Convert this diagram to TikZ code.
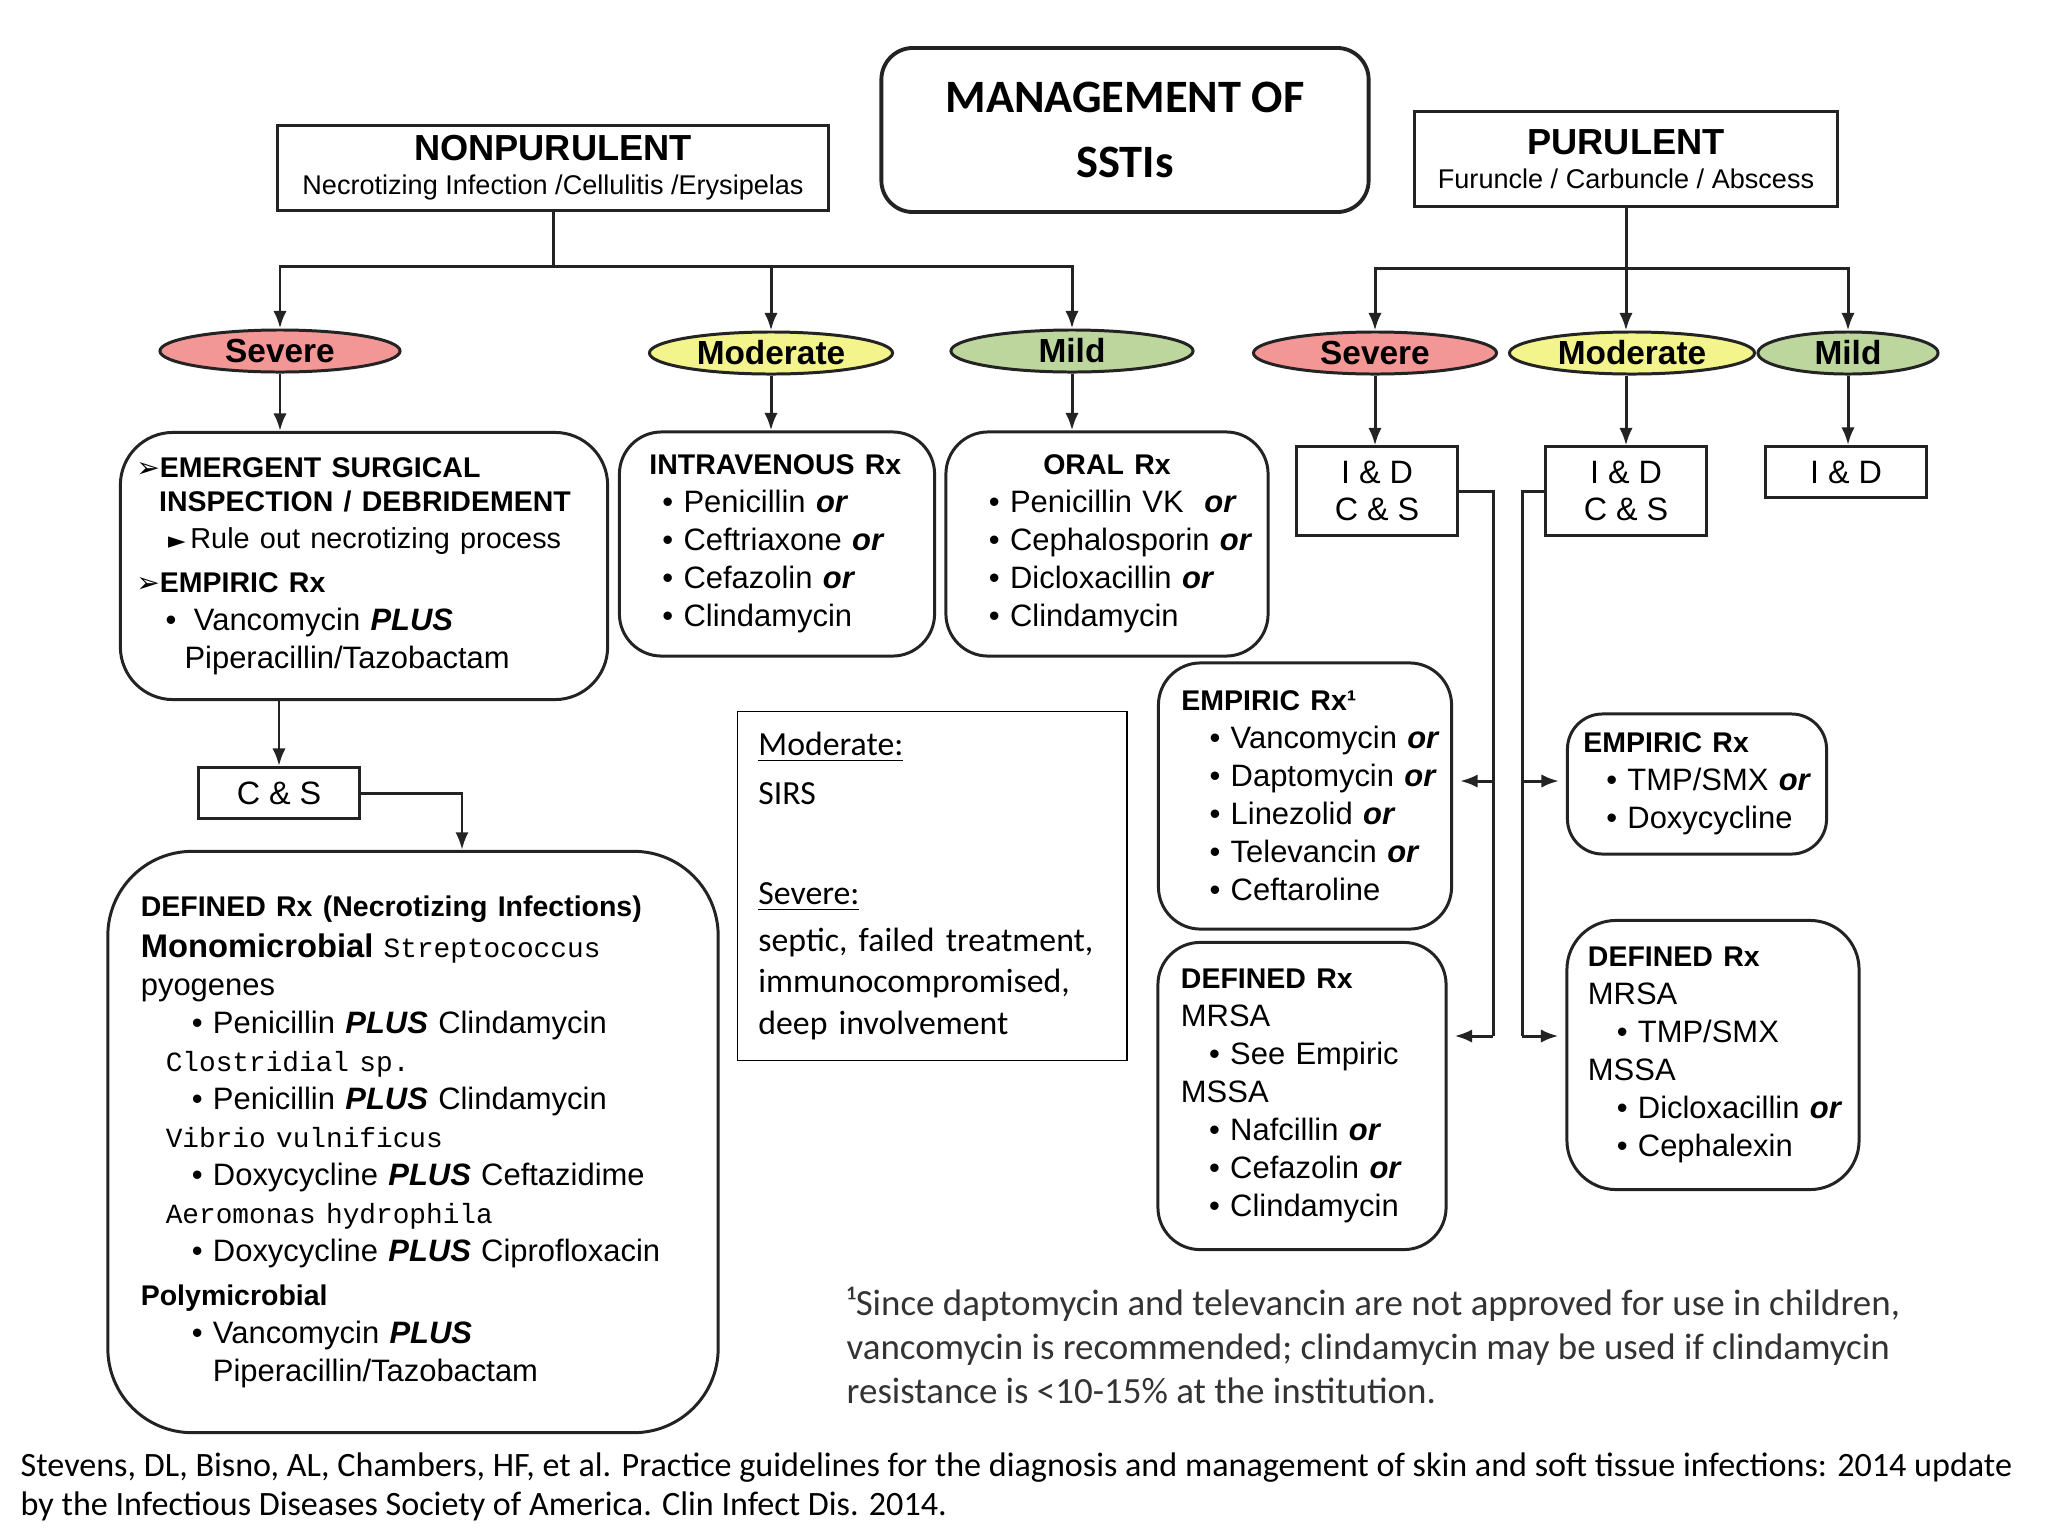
\documentclass[tikz,border=0pt]{standalone}
\usepackage{fontspec}
\setmainfont{Liberation Sans}
\newfontfamily\slidefont{Carlito}
\newfontfamily\dingfont{DejaVu Sans}
\newfontfamily\speciesfont{Liberation Mono}
\usetikzlibrary{positioning, arrows.meta, shapes.geometric}

\definecolor{LineColor}{RGB}{35,35,35}
\definecolor{SevereColor}{RGB}{242,150,150}
\definecolor{ModerateColor}{RGB}{244,244,140}
\definecolor{MildColor}{RGB}{188,214,158}

\newcommand{\hdr}[1]{{\fontsize{8.1}{10.8}\selectfont\bfseries #1}}
\newcommand{\grouptitle}[1]{{\fontsize{10.3}{11}\selectfont\bfseries #1}}
\newcommand{\bor}{\textbf{\textit{or}}}
\newcommand{\plus}{\textbf{\textit{PLUS}}}
\newcommand{\pointer}{{\dingfont\fontsize{8}{10.8}\selectfont ➢}}
\newcommand{\species}[1]{{\speciesfont\fontsize{7.9}{10.8}\selectfont #1}}
\newcommand{\rxitem}[2][8pt]{\hspace*{#1}\mbox{\textbullet\ #2}}

\tikzstyle{link} = [line width=0.85pt, LineColor]
\tikzstyle{arrow} = [line width=0.85pt, LineColor, -{Latex[length=5pt,width=3.8pt]}]
\tikzstyle{titlebox} = [draw=LineColor, line width=1.1pt, rounded corners=9pt, align=center, minimum width=4.87cm, minimum height=1.64cm, font=\slidefont\fontsize{13.2}{18.5}\selectfont\bfseries]
\tikzstyle{groupbox} = [draw=LineColor, line width=0.85pt, fill=white, align=center, inner sep=0pt, font=\fontsize{7.7}{9.7}\selectfont]
\tikzstyle{plainbox} = [draw=LineColor, line width=0.85pt, fill=white, align=center, inner sep=0pt, font=\fontsize{9.2}{10.4}\selectfont]
\tikzstyle{severity} = [ellipse, draw=LineColor, line width=0.85pt, inner sep=0pt, minimum height=0.42cm, font=\fontsize{9.5}{11}\selectfont\bfseries]
\tikzstyle{rxbox} = [draw=LineColor, line width=0.85pt, rounded corners=12pt, align=left, inner ysep=0pt, font=\fontsize{8.8}{10.8}\selectfont]
\tikzstyle{legendbox} = [draw=black, line width=0.5pt, align=left, inner ysep=0pt, text width=3.47cm, inner xsep=0.21cm, minimum height=3.49cm, font=\slidefont\fontsize{9.6}{11.8}\selectfont]

\begin{document}
\begin{tikzpicture}[x=0.01cm, y=-0.01cm]
\useasboundingbox (0,0) rectangle (2048,1536);

% headings
\node[titlebox] (title) at (1125,130) {MANAGEMENT OF\\SSTIs};
\node[groupbox, minimum width=5.50cm, minimum height=0.85cm] (npBox) at (553,168) {\grouptitle{NONPURULENT}\\Necrotizing Infection /Cellulitis /Erysipelas};
\node[groupbox, minimum width=4.23cm, minimum height=0.94cm] (pBox) at (1626,159) {\grouptitle{PURULENT}\\Furuncle / Carbuncle / Abscess};

% severity levels
\node[severity, fill=SevereColor, minimum width=2.40cm] (npSev) at (280,351) {Severe};
\node[severity, fill=ModerateColor, minimum width=2.43cm] (npMod) at (771,353) {Moderate};
\node[severity, fill=MildColor, minimum width=2.42cm] (npMild) at (1072,351) {Mild};
\node[severity, fill=SevereColor, minimum width=2.43cm] (pSev) at (1375,353) {Severe};
\node[severity, fill=ModerateColor, minimum width=2.45cm] (pMod) at (1632,353) {Moderate};
\node[severity, fill=MildColor, minimum width=1.80cm] (pMild) at (1848,353) {Mild};

\coordinate (npJoin) at (553,266);
\coordinate (pJoin) at (1626,268);
\draw[link] (npBox) -- (npJoin);
\draw[arrow] (npJoin) -| (npSev);
\draw[arrow] (npJoin) -| (npMild);
\draw[arrow] (npMod |- npJoin) -- (npMod);
\draw[link] (pBox) -- (pJoin);
\draw[arrow] (pJoin) -| (pSev);
\draw[arrow] (pJoin) -| (pMild);
\draw[arrow] (pJoin) -- (pJoin |- pMod.north);

% nonpurulent treatment
\node[rxbox, text width=4.55cm, inner xsep=0.16cm, minimum height=2.67cm, rounded corners=15pt] (npSevBox) at (364,566) {%
\pointer\hdr{EMERGENT SURGICAL}\\[-1pt]
\hspace*{6.5pt}\hdr{INSPECTION / DEBRIDEMENT}\\[-0.5pt]
\hspace*{9pt}{\dingfont\fontsize{6.5}{10.8}\selectfont ►}{\fontsize{8.2}{10.8}\selectfont\,Rule out necrotizing process}\\[1.7pt]
\pointer\hdr{EMPIRIC Rx}\\
\hspace*{8.3pt}\textbullet\hspace{5pt}Vancomycin \plus\\
\hspace*{13.7pt}Piperacillin/Tazobactam};
\node[rxbox, text width=2.55cm, inner xsep=0.30cm, minimum height=2.24cm] (npModBox) at (777,544) {%
\hdr{INTRAVENOUS Rx}\\
\rxitem[3.7pt]{Penicillin \bor}\\
\rxitem[3.7pt]{Ceftriaxone \bor}\\
\rxitem[3.7pt]{Cefazolin \bor}\\
\rxitem[3.7pt]{Clindamycin}};
\node[rxbox, text width=2.36cm, inner xsep=0.43cm, minimum height=2.24cm] (npMildBox) at (1107,544) {%
\makebox[\hsize]{\hdr{ORAL Rx}}\\
\rxitem[0pt]{Penicillin VK\ \ \bor}\\
\rxitem[0pt]{Cephalosporin \bor}\\
\rxitem[0pt]{Dicloxacillin \bor}\\
\rxitem[0pt]{Clindamycin}};
\draw[arrow] (npSev) -- (npSev |- npSevBox.north);
\draw[arrow] (npMod) -- (npMod |- npModBox.north);
\draw[arrow] (npMild) -- (npMild |- npMildBox.north);

\node[plainbox, minimum width=1.60cm, minimum height=0.51cm] (npCS) at (279,793) {C \& S};
\node[rxbox, text width=5.44cm, inner xsep=0.33cm, minimum height=5.81cm, rounded corners=24pt] (npDefBox) at (413,1142) {%
\hdr{DEFINED Rx (Necrotizing Infections)}\\[0.8pt]
{\fontsize{9.3}{10.8}\selectfont\bfseries Monomicrobial} \species{Streptococcus}\\
pyogenes\\
\rxitem[14.5pt]{Penicillin \plus\ Clindamycin}\\
\hspace*{7.1pt}\species{Clostridial sp.}\\
\rxitem[14.5pt]{Penicillin \plus\ Clindamycin}\\
\hspace*{7.1pt}\species{Vibrio vulnificus}\\
\rxitem[14.5pt]{Doxycycline \plus\ Ceftazidime}\\
\hspace*{7.1pt}\species{Aeromonas hydrophila}\\
\rxitem[14.5pt]{Doxycycline \plus\ Ciprofloxacin}\\[1.7pt]
\hdr{Polymicrobial}\\
\rxitem[14.5pt]{Vancomycin \plus}\\
\hspace*{20.5pt}Piperacillin/Tazobactam};
\coordinate (csTurn) at (462,793);
\draw[arrow] (npCS |- npSevBox.south) -- (npCS);
\draw[arrow] (npCS) -- (csTurn) -- (csTurn |- npDefBox.north);

\node[legendbox] (legend) at (932,886) {\underline{Moderate:}\\[2.1pt]
SIRS\\[16.6pt]
\underline{Severe:}\\[1.6pt]
septic, failed treatment,\\
immunocompromised,\\
deep involvement};

% purulent treatment
\node[plainbox, minimum width=1.61cm, minimum height=0.88cm] (pSevID) at (1377,491) {I \& D\\C \& S};
\node[plainbox, minimum width=1.60cm, minimum height=0.88cm] (pModID) at (1626,491) {I \& D\\C \& S};
\node[plainbox, minimum width=1.60cm, minimum height=0.51cm] (pMildID) at (1846,472) {I \& D};
\draw[arrow] (pSev) -- (pSev |- pSevID.north);
\draw[arrow] (pModID |- pMod.south) -- (pModID);
\draw[arrow] (pMild) -- (pMild |- pMildID.north);

\node[rxbox, text width=2.47cm, inner xsep=0.23cm, minimum height=2.66cm] (pSevEmp) at (1305,796) {%
\hdr{EMPIRIC Rx¹}\\
\rxitem{Vancomycin \bor}\\
\rxitem{Daptomycin \bor}\\
\rxitem{Linezolid \bor}\\
\rxitem{Televancin \bor}\\
\rxitem{Ceftaroline}};
\node[rxbox, text width=2.42cm, inner xsep=0.23cm, minimum height=3.07cm] (pSevDef) at (1302,1096) {%
\hdr{DEFINED Rx}\\
MRSA\\
\rxitem{See Empiric}\\
MSSA\\
\rxitem{Nafcillin \bor}\\
\rxitem{Cefazolin \bor}\\
\rxitem{Clindamycin}};
\node[rxbox, text width=2.27cm, inner xsep=0.16cm, minimum height=1.40cm, rounded corners=10pt] (pModEmp) at (1697,784) {%
\hdr{EMPIRIC Rx}\\
\rxitem[6.5pt]{TMP/SMX \bor}\\
\rxitem[6.5pt]{Doxycycline}};
\node[rxbox, text width=2.50cm, inner xsep=0.21cm, minimum height=2.69cm, rounded corners=14pt] (pModDef) at (1713,1055) {%
\hdr{DEFINED Rx}\\
MRSA\\
\rxitem[8.2pt]{TMP/SMX}\\
MSSA\\
\rxitem[8.2pt]{Dicloxacillin \bor}\\
\rxitem[8.2pt]{Cephalexin}};

\coordinate (lTop) at (1493,491);
\coordinate (lMid) at (1493,781);
\coordinate (lBot) at (1493,1036);
\coordinate (rTop) at (1522,491);
\coordinate (rMid) at (1522,781);
\coordinate (rBot) at (1522,1036);
\draw[link] (pSevID) -- (lTop) -- (lBot);
\draw[link] (pModID) -- (rTop) -- (rBot);
\draw[arrow, shorten >=2pt] (lMid) -- (lMid -| pSevEmp.east);
\draw[arrow, shorten >=2pt] (lBot) -- (lBot -| pSevDef.east);
\draw[arrow, shorten >=2pt] (rMid) -- (rMid -| pModEmp.west);
\draw[arrow, shorten >=2pt] (rBot) -- (rBot -| pModDef.west);

% notes
\node[anchor=west, align=left, inner sep=0pt, text=black!80, font=\slidefont\fontsize{10.5}{12.5}\selectfont] (footnote) at (846,1345) {¹Since daptomycin and televancin are not approved for use in children,\\
vancomycin is recommended; clindamycin may be used if clindamycin\\
resistance is <10-15\% at the institution.};
\node[anchor=west, align=left, inner sep=0pt, font=\slidefont\fontsize{9.7}{11.1}\selectfont] (citation) at (20,1487) {Stevens, DL, Bisno, AL, Chambers, HF, et al. Practice guidelines for the diagnosis and management of skin and soft tissue infections: 2014 update\\
by the Infectious Diseases Society of America. Clin Infect Dis. 2014.};
\end{tikzpicture}
\end{document}
